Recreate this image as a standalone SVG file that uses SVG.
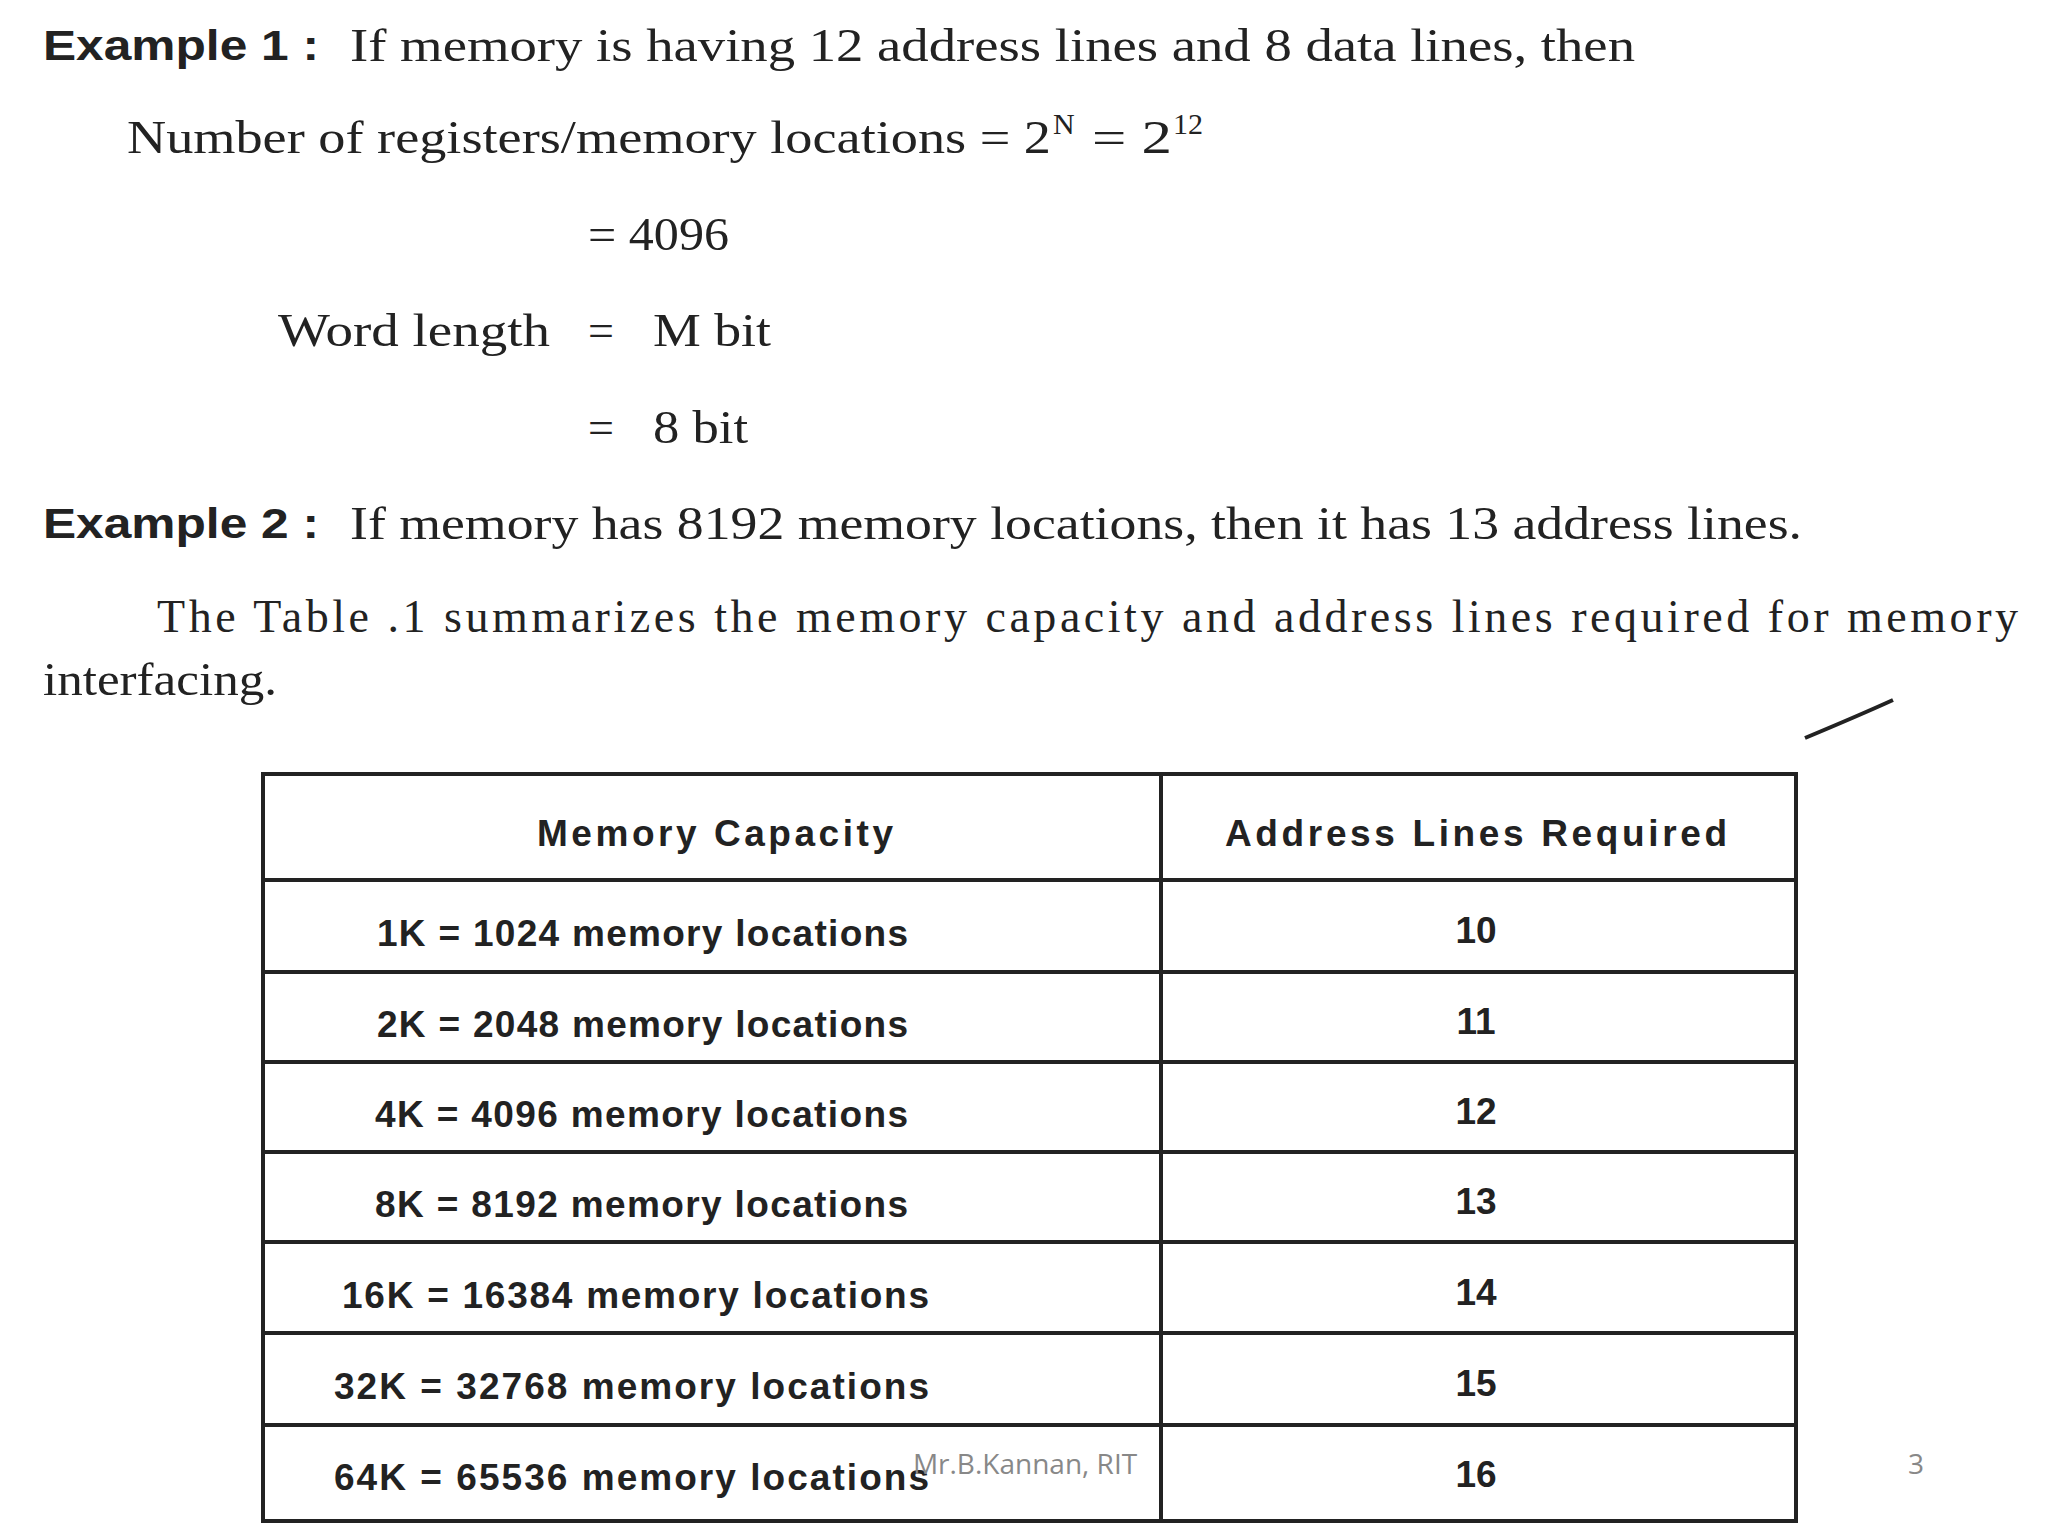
<svg xmlns="http://www.w3.org/2000/svg" width="2048" height="1536" viewBox="0 0 2048 1536">
<style>
.s{font-family:"Liberation Serif",serif;font-size:46px;fill:#222}
.b{font-family:"Liberation Sans",sans-serif;font-weight:bold;font-size:42px;fill:#222}
.t{font-family:"Liberation Sans",sans-serif;font-weight:bold;font-size:37px;fill:#222}
.sup{font-family:"Liberation Serif",serif;font-size:30px;fill:#222}
.ln{stroke:#222;stroke-width:4;fill:none}
.f{font-family:"Open Sans",sans-serif;font-size:28px;fill:#888}
</style>
<rect width="2048" height="1536" fill="#fff"/>
<g id="text">
<text class="b" x="43" y="60" textLength="276" lengthAdjust="spacingAndGlyphs">Example 1 :</text>
<text class="s" x="350" y="61" textLength="1285" lengthAdjust="spacingAndGlyphs">If memory is having 12 address lines and 8 data lines, then</text>
<text class="s" x="127" y="153" textLength="924" lengthAdjust="spacingAndGlyphs">Number of registers/memory locations = 2</text>
<text class="sup" x="1053" y="134">N</text>
<text class="s" x="1092" y="153" textLength="80" lengthAdjust="spacingAndGlyphs">= 2</text>
<text class="sup" x="1173" y="134">12</text>
<text class="s" x="588" y="250" textLength="141" lengthAdjust="spacingAndGlyphs">= 4096</text>
<text class="s" x="278" y="346" textLength="272" lengthAdjust="spacingAndGlyphs">Word length</text>
<text class="s" x="588" y="346">=</text>
<text class="s" x="653" y="346" textLength="118" lengthAdjust="spacingAndGlyphs">M bit</text>
<text class="s" x="588" y="443">=</text>
<text class="s" x="653" y="443" textLength="95" lengthAdjust="spacingAndGlyphs">8 bit</text>
<text class="b" x="43" y="538" textLength="276" lengthAdjust="spacingAndGlyphs">Example 2 :</text>
<text class="s" x="350" y="539" textLength="1452" lengthAdjust="spacingAndGlyphs">If memory has 8192 memory locations, then it has 13 address lines.</text>
<text class="s" x="157" y="632" textLength="1861" lengthAdjust="spacing">The Table .1 summarizes the memory capacity and address lines required for memory</text>
<text class="s" x="43" y="695" textLength="234" lengthAdjust="spacingAndGlyphs">interfacing.</text>
</g>
<path class="ln" d="M1805 738 Q1860 715 1893 700" stroke-width="2"/>
<g id="table">
<rect class="ln" x="263" y="774" width="1533" height="747"/>
<path class="ln" d="M1161 774V1521M263 880H1796M263 972H1796M263 1062H1796M263 1152H1796M263 1242H1796M263 1333H1796M263 1425H1796"/>
<text class="t" x="537" y="846" textLength="356" lengthAdjust="spacing">Memory Capacity</text>
<text class="t" x="1225" y="846" textLength="502" lengthAdjust="spacing">Address Lines Required</text>
<text class="t" x="377" y="946" textLength="531" lengthAdjust="spacing">1K = 1024 memory locations</text>
<text class="t" x="377" y="1037" textLength="531" lengthAdjust="spacing">2K = 2048 memory locations</text>
<text class="t" x="375" y="1127" textLength="533" lengthAdjust="spacing">4K = 4096 memory locations</text>
<text class="t" x="375" y="1217" textLength="533" lengthAdjust="spacing">8K = 8192 memory locations</text>
<text class="t" x="342" y="1308" textLength="587" lengthAdjust="spacing">16K  = 16384 memory locations</text>
<text class="t" x="334" y="1399" textLength="595" lengthAdjust="spacing">32K  = 32768 memory locations</text>
<text class="t" x="334" y="1490" textLength="595" lengthAdjust="spacing">64K  = 65536 memory locations</text>
<text class="t" x="1476" y="943" text-anchor="middle">10</text>
<text class="t" x="1476" y="1034" text-anchor="middle">11</text>
<text class="t" x="1476" y="1124" text-anchor="middle">12</text>
<text class="t" x="1476" y="1214" text-anchor="middle">13</text>
<text class="t" x="1476" y="1305" text-anchor="middle">14</text>
<text class="t" x="1476" y="1396" text-anchor="middle">15</text>
<text class="t" x="1476" y="1487" text-anchor="middle">16</text>
</g>
<g id="footer">
<text class="f" x="1025" y="1474" text-anchor="middle">Mr.B.Kannan, RIT</text>
<text class="f" x="1916" y="1474" text-anchor="middle">3</text>
</g>
</svg>
